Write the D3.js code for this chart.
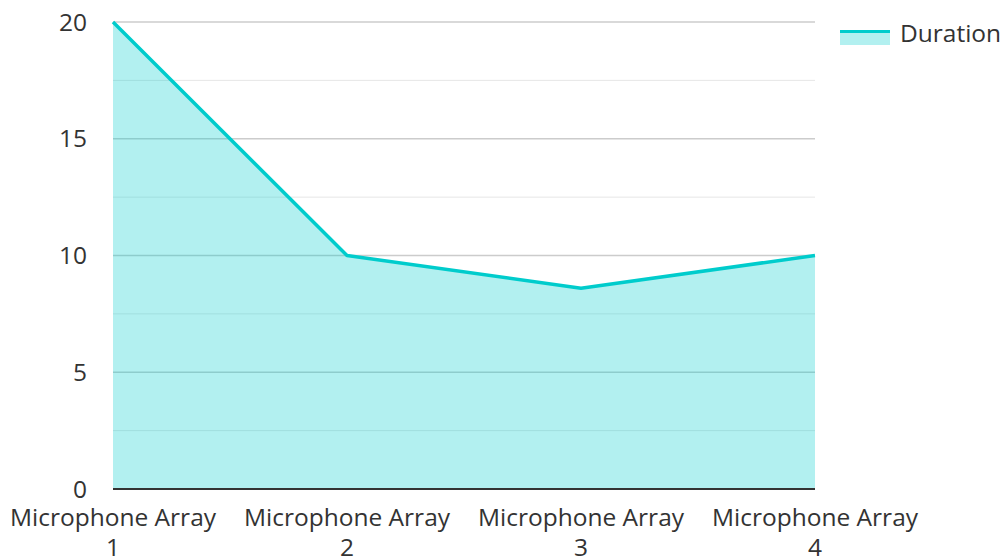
<!DOCTYPE html>
<meta charset="utf-8">
<style>
    body { margin: 0; background: #fff; }
    text { font-family: "Open Sans", "Noto Sans", sans-serif; fill: #333; }
    .tick-label { font-size: 24.5px; }
</style>
<svg width="1005" height="560"></svg>
<script src="https://d3js.org/d3.v7.min.js"></script>
<script>

    var categories = ["Microphone Array 1", "Microphone Array 2", "Microphone Array 3", "Microphone Array 4"],
        durations = [20, 10, 8.6, 10],
        yTicks = [0, 5, 10, 15, 20],
        yMinorTicks = [2.5, 7.5, 12.5, 17.5],
        seriesName = "Duration";

    var svg = d3.select("svg"),
        margin = {top: 22, right: 190, bottom: 71, left: 113},
        width = +svg.attr("width") - margin.left - margin.right,
        height = +svg.attr("height") - margin.top - margin.bottom,
        g = svg.append("g").attr("transform", "translate(" + margin.left + "," + margin.top + ")");

    var lineColor = "#00cccc";

    var x = d3.scalePoint().domain(categories).range([0, width]).padding(0);
    var y = d3.scaleLinear().domain([0, 20]).range([height, 0]);

    // grid lines
    g.selectAll(".minor").data(yMinorTicks).enter().append("line")
        .attr("x1", 0).attr("x2", width)
        .attr("y1", function(d) { return y(d); }).attr("y2", function(d) { return y(d); })
        .attr("stroke", "#e6e6e6").attr("stroke-width", 1);

    g.selectAll(".major").data(yTicks.filter(function(d) { return d > 0; })).enter().append("line")
        .attr("x1", 0).attr("x2", width)
        .attr("y1", function(d) { return y(d); }).attr("y2", function(d) { return y(d); })
        .attr("stroke", "#cccccc").attr("stroke-width", 1.5);

    var area = d3.area()
        .x(function(d, i) { return x(categories[i]); })
        .y0(y(0))
        .y1(function(d) { return y(d); });

    var line = d3.line()
        .x(function(d, i) { return x(categories[i]); })
        .y(function(d) { return y(d); });

    g.append("path").datum(durations)
        .attr("d", area)
        .attr("fill", lineColor)
        .attr("fill-opacity", 0.3);

    g.append("path").datum(durations)
        .attr("d", line)
        .attr("fill", "none")
        .attr("stroke", lineColor)
        .attr("stroke-width", 3.5)
        .attr("stroke-linejoin", "round");

    // y axis labels
    g.selectAll(".ylab").data(yTicks).enter().append("text")
        .attr("class", "tick-label")
        .attr("x", -26)
        .attr("y", function(d) { return y(d); })
        .attr("dy", "0.35em")
        .attr("text-anchor", "end")
        .text(function(d) { return d; });

    // x axis baseline
    g.append("line")
        .attr("x1", 0).attr("x2", width)
        .attr("y1", y(0)).attr("y2", y(0))
        .attr("stroke", "#333").attr("stroke-width", 2);

    // x axis labels (wrapped)
    var xl = g.selectAll(".xlab").data(categories).enter().append("text")
        .attr("class", "tick-label")
        .attr("text-anchor", "middle")
        .attr("transform", function(d) { return "translate(" + x(d) + "," + (height + 37) + ")"; });

    xl.each(function(d) {
        var parts = [d.slice(0, d.lastIndexOf(" ")), d.slice(d.lastIndexOf(" ") + 1)];
        var t = d3.select(this);
        parts.forEach(function(p, i) {
            t.append("tspan").attr("x", 0).attr("dy", i ? 30 : 0).text(p);
        });
    });

    // legend
    var legend = svg.append("g").attr("transform", "translate(840,30)");
    legend.append("rect").attr("x", 0).attr("y", 0).attr("width", 50).attr("height", 15)
        .attr("fill", lineColor).attr("fill-opacity", 0.3);
    legend.append("rect").attr("x", 0).attr("y", 0).attr("width", 50).attr("height", 3).attr("fill", lineColor);
    legend.append("text")
        .attr("class", "tick-label")
        .attr("x", 60).attr("y", 3)
        .attr("dy", "0.35em")
        .text(seriesName);

</script>
